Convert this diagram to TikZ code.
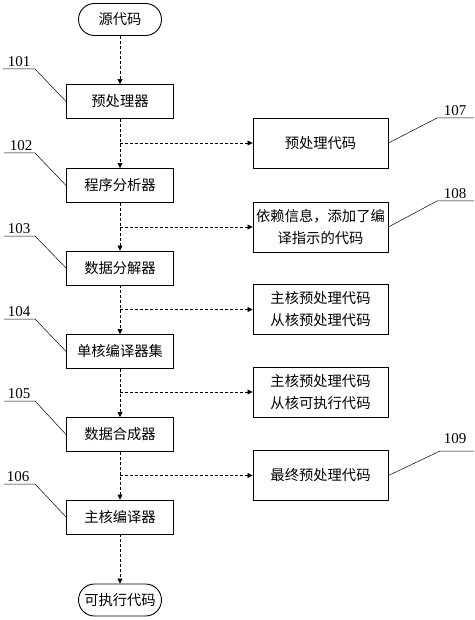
\documentclass[tikz,border=0pt]{standalone}
\usepackage{fontspec}
\setmainfont{Liberation Serif}
\newfontfamily\cjk{Noto Sans CJK SC}
\usetikzlibrary{arrows.meta}
\begin{document}
\begin{tikzpicture}[x=1pt,y=-1pt,
  proc/.style={draw, line width=0.9pt, minimum width=107pt, minimum height=34pt, inner sep=0pt, font=\cjk\fontsize{14.3}{22}\selectfont},
  term/.style={proc, rounded corners=16pt, minimum width=83pt, minimum height=32pt},
  outbox/.style={proc, minimum width=135pt, minimum height=50pt, align=center},
  flow/.style={densely dashed, line width=0.6pt, -{Triangle[length=5pt,width=5pt]}},
  lead/.style={line width=0.5pt},
  num/.style={font=\fontsize{15}{15}\selectfont, inner sep=0pt}]
\useasboundingbox (0,0) rectangle (474,620);
% main column
\node[term] (src) at (120,19.5) {源代码};
\node[proc] (p1) at (120,101.5) {预处理器};
\node[proc] (p2) at (120,185.5) {程序分析器};
\node[proc] (p3) at (120,268) {数据分解器};
\node[proc] (p4) at (120,351.5) {单核编译器集};
\node[proc] (p5) at (120,434.5) {数据合成器};
\node[proc] (p6) at (120,517) {主核编译器};
\node[term] (dst) at (120,600) {可执行代码};
% right column
\node[outbox] (r1) at (320.5,143) {预处理代码};
\node[outbox] (r2) at (320.5,227) {依赖信息，添加了编\\译指示的代码};
\node[outbox] (r3) at (320.5,309.5) {主核预处理代码\\从核预处理代码};
\node[outbox] (r4) at (320.5,392) {主核预处理代码\\从核可执行代码};
\node[outbox] (r5) at (320.5,475.5) {最终预处理代码};
% vertical flow
\draw[flow] (src) -- (p1);
\draw[flow] (p1) -- (p2);
\draw[flow] (p2) -- (p3);
\draw[flow] (p3) -- (p4);
\draw[flow] (p4) -- (p5);
\draw[flow] (p5) -- (p6);
\draw[flow] (p6) -- (dst);
% branches
\coordinate (j1) at (p1.south |- r1.west);
\coordinate (j2) at (p2.south |- r2.west);
\coordinate (j3) at (p3.south |- r3.west);
\coordinate (j4) at (p4.south |- r4.west);
\coordinate (j5) at (p5.south |- r5.west);
\draw[flow] (j1) -- (r1.west);
\draw[flow] (j2) -- (r2.west);
\draw[flow] (j3) -- (r3.west);
\draw[flow] (j4) -- (r4.west);
\draw[flow] (j5) -- (r5.west);
% left labels
\node[num] (n101) at (19,62) {101};
\node[num] (n102) at (21,146) {102};
\node[num] (n103) at (19,229) {103};
\node[num] (n104) at (19,312) {104};
\node[num] (n105) at (19,394) {105};
\node[num] (n106) at (18,477) {106};
\coordinate (a1) at (3,69);  \coordinate (b1) at (35,69);
\coordinate (a2) at (4,153); \coordinate (b2) at (35,153);
\coordinate (a3) at (4,236); \coordinate (b3) at (35,236);
\coordinate (a4) at (4,319); \coordinate (b4) at (35,319);
\coordinate (a5) at (4,401); \coordinate (b5) at (35,401);
\coordinate (a6) at (4,484); \coordinate (b6) at (35,484);
\draw[lead] (a1) -- (b1) -- (p1.west);
\draw[lead] (a2) -- (b2) -- (p2.west);
\draw[lead] (a3) -- (b3) -- (p3.west);
\draw[lead] (a4) -- (b4) -- (p4.west);
\draw[lead] (a5) -- (b5) -- (p5.west);
\draw[lead] (a6) -- (b6) -- (p6.west);
% right labels
\node[num] (n107) at (455,111) {107};
\node[num] (n108) at (455,194) {108};
\node[num] (n109) at (455,439) {109};
\coordinate (c7) at (437,118); \coordinate (d7) at (474,118);
\coordinate (c8) at (437,201); \coordinate (d8) at (474,201);
\coordinate (c9) at (440,451); \coordinate (d9) at (474,451);
\draw[lead] (d7) -- (c7) -- (r1.east);
\draw[lead] (d8) -- (c8) -- (r2.east);
\draw[lead] (d9) -- (c9) -- (r5.east);
\end{tikzpicture}
\end{document}
